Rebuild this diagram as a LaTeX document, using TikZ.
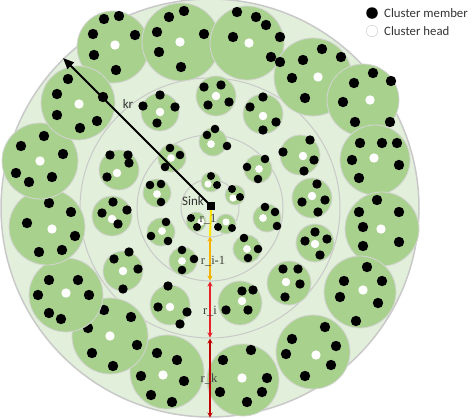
\documentclass[tikz,border=0pt]{standalone}
\usepackage{fontspec}
\setsansfont{Carlito}
\newfontfamily\rfont{Liberation Serif}
\usetikzlibrary{arrows.meta}
\definecolor{field}{HTML}{E2EFDA}
\definecolor{cgreen}{HTML}{A9D18E}
\definecolor{ringgray}{HTML}{C9C9C9}
\definecolor{ryellow}{HTML}{FFE600}
\definecolor{rorange}{HTML}{F5B000}
\definecolor{rred}{HTML}{E8202A}
\definecolor{rdark}{HTML}{C00000}

\begin{document}
\begin{tikzpicture}[x=1pt,y=-1pt]
\tikzset{ring/.style = {draw=ringgray, line width=1pt}}
\tikzset{cdisk/.style = {fill=cgreen, draw=ringgray!80, line width=0.8pt}}
\tikzset{mem/.style = {fill=black}}
\tikzset{hd/.style = {fill=white}}
\tikzset{rarrow/.style = {{Stealth[length=5pt,width=5pt]}-{Stealth[length=5pt,width=5pt]}, line width=1.6pt, shorten <=0.5pt, shorten >=0.5pt}}
\tikzset{lbl/.style = {font=\sffamily\fontsize{13}{13}\selectfont, text=black!80, inner sep=0pt}}
\tikzset{rlbl/.style = {font=\rfont\fontsize{12.5}{12.5}\selectfont, text=black!75, inner sep=0pt}}
\tikzset{legdot/.style = {circle, minimum size=11.5pt, inner sep=0pt}}
\def \R {209}
\def \clust#1#2#3#4#5{%
  \filldraw[cdisk] (#1) circle (#2);
  \fill[hd] (#3) circle (0.9*#4);
  \foreach \mx/\my in {#5} \fill[mem] (\mx,\my) circle (#4);}
\useasboundingbox (0,0) rectangle (474,418);

% field and rings
\coordinate (o) at (210,208);
\filldraw[fill=field, draw=ringgray, line width=1.5pt] (o) circle (\R);
\draw[ring] (o) circle (29);
\draw[ring] (o) circle (73);
\draw[ring] (o) circle (130);

% outer ring clusters
\clust{113,47}{36}{115,45}{5.2}{119/16,104/19,93/34,135/35,94/55,116/70}
\clust{181,42}{39}{180,42}{5.2}{184/11,169/17,157/32,204/34,159/52,181/67}
\clust{247,43}{37}{249,43}{5.2}{233/37,237/12,256/17,266/25,280/37,271/57}
\clust{313,77}{39}{318,77}{5.2}{322/49,341/57,303/60,292/78,305/98,280/62}
\clust{363,100}{36}{370,100}{5.2}{373/73,391/81,354/83,343/102,355/122,390/122}
\clust{375,160}{35}{374,158}{5.2}{360/143,382/143,397/143,352/160,399/165,359/178}
\clust{382,229}{37}{381,229}{5.2}{377/200,359/212,399/212,363/227,363/246,399/242}
\clust{360,292}{36}{363,290}{5.2}{367/267,344/281,382/281,340/297,378/303,356/321}
\clust{313,352}{37}{316,355}{5.2}{325/327,292/339,336/346,286/354,331/365,305/376}
\clust{243,380}{36}{242,378}{5.2}{223/360,251/350,267/378,262/392,247/402,220/392}
\clust{167,372}{37}{163,375}{5.2}{157/353,177/360,141/376,184/381,151/395,172/402}
\clust{110,336}{38}{110,336}{5.2}{104/310,131/317,88/328,137/345,92/353,113/366}
\clust{66,295}{37}{66,293}{5.2}{49/280,78/280,38/295,89/295,49/313,61/319}
\clust{47,227}{38}{52,229}{5.2}{49/203,71/212,27/223,75/236,39/252,62/250}
\clust{40,161}{38}{40,161}{5.2}{44/136,21/146,63/154,16/173,29/182,52/177}
\clust{78,103}{37}{79,104}{5.2}{68/79,103/97,57/94,57/115,97/121,80/128}

% middle ring clusters
\clust{160,112}{19}{160,112}{4.7}{160/95,143/106,175/107,157/123}
\clust{216,96}{20}{216,96}{4.7}{204/87,221/85,208/105,229/102}
\clust{263,114}{20}{263,116}{4.7}{263/97,250/107,276/122,263/130}
\clust{300,155}{20}{303,156}{4.7}{310/140,283/152,314/160,304/171}
\clust{312,198}{20}{312,196}{4.7}{317/184,302/202,325/200,318/212}
\clust{315,243}{19}{315,244}{4.7}{315/232,305/241,327/239,320/255}
\clust{289,283}{22}{286,282}{4.7}{283/269,298/269,300/284,285/297}
\clust{240,303}{22}{242,301}{4.7}{242/291,253/290,226/310,248/310}
\clust{170,305}{20}{170,307}{4.7}{168/286,158/307,187/312,180/324}
\clust{123,271}{20}{123,271}{4.7}{129/252,114/259,138/269,123/289}
\clust{112,216}{20}{112,219}{4.7}{113/202,102/213,127/210,118/224}
\clust{119,170}{20}{117,173}{4.7}{110/155,128/155,129/163,107/177}

% inner ring clusters
\clust{172,158}{14}{171,158}{4.3}{170/148,180/155,165/167}
\clust{213,142}{14}{211,144}{4.3}{215/129,207/135,227/146}
\clust{258,169}{14}{259,169}{4.3}{265/159,247/167,258/179}
\clust{267,218}{14}{263,218}{4.3}{265/207,275/212,277/226}
\clust{247,249}{14}{247,249}{4.3}{244/238,258/249,248/258}
\clust{183,261}{14}{182,261}{4.3}{182/250,194/259,182/270}
\clust{161,232}{14}{162,231}{4.3}{166/222,151/236,168/241}
\clust{157,193}{14}{157,194}{4.3}{150/185,161/184,161/202}

% innermost clusters
\clust{211,182}{10}{208,184}{4}{211/176,217/185}
\clust{235,195}{10}{233,198}{4}{232/189,240/197}
\clust{226,224}{10}{226,222}{4}{218/227,232/228}
\clust{196,222}{10}{201,222}{4}{191/218,197/227}

% sink and radius kr
\node[fill=black, minimum size=8pt, inner sep=0pt] (sink) at (211,206) {};
\node[lbl] (sinklbl) at (193,201) {Sink};
\coordinate (rim) at (63,58);
\draw[line width=2pt, -{Triangle[length=11pt,width=9pt]}] (sink.center) -- (rim);
\node[lbl] (kr) at (128,104) {kr};

% ring widths
\coordinate (r1) at (210,236);
\coordinate (r2) at (210,281);
\coordinate (r3) at (210,338);
\coordinate (r4) at (210,418);
\draw[ryellow, line width=2pt] (sink.south) -- (r1);
\draw[rarrow, rorange] (r1) -- (r2);
\draw[rarrow, rred] (r2) -- (r3);
\draw[rarrow, rdark] (r3) -- (r4);
\node[rlbl] (lr1) at (208,219) {r\_1};
\node[rlbl] (lri1) at (213,261) {r\_i-1};
\node[rlbl] (lri) at (210,311) {r\_i};
\node[rlbl] (lrk) at (209,379) {r\_k};

% legend
\node[legdot, fill=black] (legm) at (372,13) {};
\node[legdot, fill=white, draw=ringgray] (legh) at (372,31) {};
\node[lbl, anchor=west, font=\sffamily\fontsize{12.8}{13}\selectfont] (legmt) at (384,13) {Cluster member};
\node[lbl, anchor=west, font=\sffamily\fontsize{12.8}{13}\selectfont] (leght) at (384,31) {Cluster head};
\end{tikzpicture}
\end{document}
